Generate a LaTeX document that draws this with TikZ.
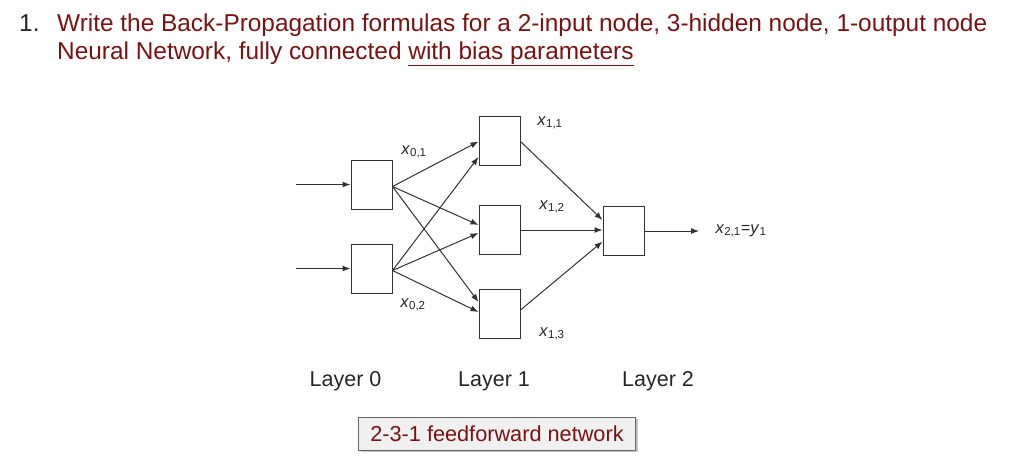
\documentclass[tikz,border=0pt]{standalone}
\usepackage{fontspec}
\setmainfont{Liberation Sans}
\usepackage{tikz}
\usetikzlibrary{shadows}
\usetikzlibrary{arrows.meta}
\usetikzlibrary{calc,positioning}

\definecolor{titlered}{RGB}{122,18,18}
\definecolor{linegray}{RGB}{50,50,50}
\newcommand{\xsub}[2]{\textit{#1}\textsubscript{#2}}

\begin{document}
\begin{tikzpicture}[x=1pt, y=-1pt, >={Latex[length=8pt,width=6pt]},
 unit/.style={draw=linegray, line width=1pt, minimum width=41pt, minimum height=49pt, inner sep=0pt},
 wire/.style={draw=linegray, line width=1pt},
 lab/.style={font=\fontsize{16.5}{19}\selectfont, text=black!85},
 layer/.style={font=\fontsize{21.5}{25}\selectfont, text=black!85}]

    \useasboundingbox (0,0) rectangle (1024,469);

    % heading
    \node[anchor=base west, inner sep=0pt, font=\fontsize{24.4}{28}\selectfont, text=black!85] (num) at (19,31) {1.};
    \node[anchor=base west, inner sep=0pt, font=\fontsize{24.4}{28}\selectfont, text=titlered] (line1) at (57,31)
        {Write the Back-Propagation formulas for a 2-input node, 3-hidden node, 1-output node};
    \node[anchor=base west, inner sep=0pt, font=\fontsize{24.4}{28}\selectfont, text=titlered] (line2) at (57,59)
        {Neural Network, fully connected \underline{with bias parameters}};

    % units
    \node[unit] (in1) at (371.5,184.5) {};
    \node[unit] (in2) at (371.5,268.5) {};
    \node[unit] (h1) at (499.5,140.5) {};
    \node[unit] (h2) at (499.5,229.5) {};
    \node[unit] (h3) at (499.5,313.5) {};
    \node[unit] (out) at (623.5,231) {};

    \coordinate (src1) at (296,184.5);
    \coordinate (src2) at (296,268.5);
    \coordinate (dst) at (699,231);

    % inputs and output
    \draw[wire, ->] (src1) -- (in1.west);
    \draw[wire, ->] (src2) -- (in2.west);
    \draw[wire, ->] (out.east) -- (dst);

    % layer 0 to layer 1
    \draw[wire, ->] ([yshift=-2pt]in1.east) -- ([yshift=-1pt]h1.west);
    \draw[wire, ->] ([yshift=-2pt]in1.east) -- ([yshift=4.5pt]h2.west);
    \draw[wire, ->] ([yshift=-2pt]in1.east) -- ([yshift=11.5pt]h3.west);
    \draw[wire, ->] ([yshift=-2pt]in2.east) -- ([yshift=-16.5pt]h1.west);
    \draw[wire, ->] ([yshift=-2pt]in2.east) -- ([yshift=-3.5pt]h2.west);
    \draw[wire, ->] ([yshift=-2pt]in2.east) -- ([yshift=1.5pt]h3.west);

    % layer 1 to layer 2
    \draw[wire, ->] ([yshift=-1pt]h1.east) -- ([yshift=11pt]out.west);
    \draw[wire, ->] ([yshift=-0.5pt]h2.east) -- ([yshift=1pt]out.west);
    \draw[wire, ->] ([yshift=3.5pt]h3.east) -- ([yshift=-10.5pt]out.west);

    % values
    \node[lab] (v01) at (414,152) {\xsub{x}{0,1}};
    \node[lab] (v02) at (413,305) {\xsub{x}{0,2}};
    \node[lab] (v11) at (550,123) {\xsub{x}{1,1}};
    \node[lab] (v12) at (552,207) {\xsub{x}{1,2}};
    \node[lab] (v13) at (552,334) {\xsub{x}{1,3}};
    \node[lab] (v21) at (741,231) {\xsub{x}{2,1}=\xsub{y}{1}};

    % layers
    \node[layer] (l0) at (345.5,381) {Layer 0};
    \node[layer] (l1) at (494,381) {Layer 1};
    \node[layer] (l2) at (658,381) {Layer 2};

    \node[draw=black!60, fill=black!6, line width=0.8pt, drop shadow={shadow xshift=2pt, shadow yshift=-2pt, fill=black!45},
          minimum width=277pt, minimum height=33pt, text=titlered, font=\fontsize{21.7}{25}\selectfont] (cap) at (497,433.5)
        {2-3-1 feedforward network};

\end{tikzpicture}
\end{document}
